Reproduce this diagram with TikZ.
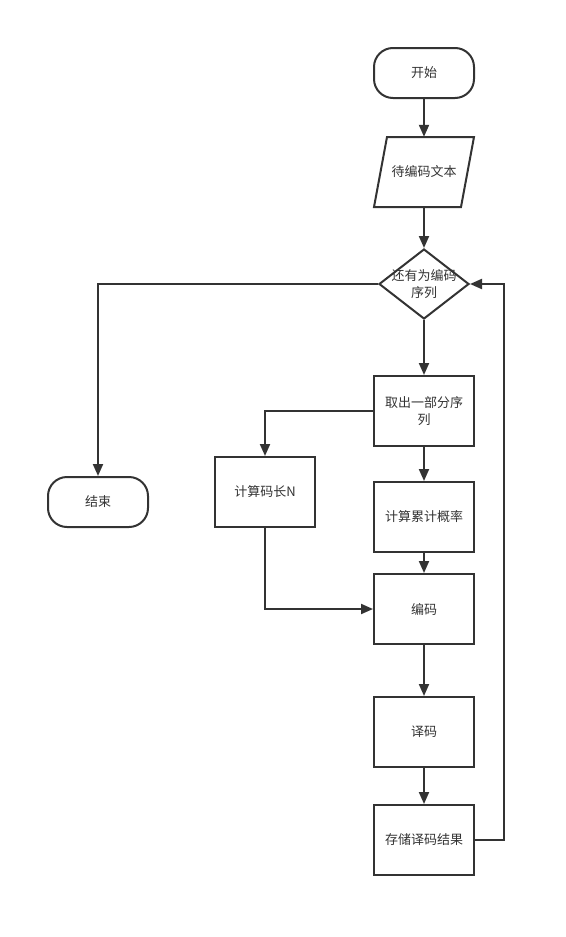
\documentclass[tikz,border=0pt]{standalone}
\usepackage{fontspec}
\setmainfont{Noto Sans CJK SC}
\usetikzlibrary{arrows.meta,shapes.geometric}
\definecolor{ink}{HTML}{333333}
\begin{document}
\begin{tikzpicture}[x=1pt,y=-1pt,
  every node/.style={font=\fontsize{13pt}{17pt}\selectfont,text=ink,align=center},
  box/.style={draw=ink,line width=2pt,rectangle,minimum width=100pt,minimum height=70pt,inner sep=0pt},
  term/.style={draw=ink,line width=2pt,rectangle,rounded corners=19pt,minimum width=100pt,minimum height=50pt,inner sep=0pt},
  ghost/.style={rectangle,minimum width=100pt,minimum height=70pt,inner sep=0pt},
  dia/.style={draw=ink,line width=2pt,diamond,minimum width=90pt,minimum height=70pt,inner sep=0pt},
  conn/.style={draw=ink,line width=2pt,-{Triangle[length=12pt,width=10pt]}},
  plain/.style={draw=ink,line width=2pt}]
\useasboundingbox (0,0) rectangle (565,937);
\node[term] (start) at (424,73) {开始};
\node[ghost] (input) at (424,172) {待编码文本};
\draw[plain,line join=miter] (387,137) -- (474,137) -- (461,207) -- (374,207) -- cycle;
\node[dia] (cond) at (424,284) {};
\node at (cond) {还有为编码\\序列};
\node[box] (take) at (424,411) {取出一部分序\\列};
\node[box] (len) at (265,492) {计算码长N};
\node[box] (prob) at (424,517) {计算累计概率};
\node[box] (enc) at (424,609) {编码};
\node[box] (dec) at (424,732) {译码};
\node[box] (store) at (424,840) {存储译码结果};
\node[term] (end) at (98,502) {结束};
\coordinate (back) at (504,284);
\draw[conn] (start) -- (input);
\draw[conn] (input) -- (cond);
\draw[conn] (cond.west) -| (end.north);
\draw[conn] (cond) -- (take);
\draw[conn] (take.west) -| (len.north);
\draw[conn] (take) -- (prob);
\draw[conn] (prob) -- (enc);
\draw[conn] (len.south) |- (enc.west);
\draw[conn] (enc) -- (dec);
\draw[conn] (dec) -- (store);
\draw[conn] (store.east) -| (back) -- (cond.east);
\end{tikzpicture}
\end{document}
